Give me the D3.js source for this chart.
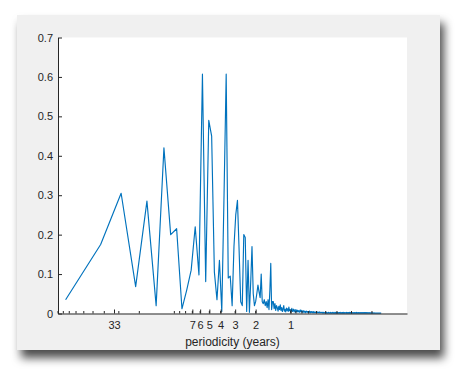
<!DOCTYPE html>
<html>
<head>
<meta charset="utf-8">
<script src="https://cdn.jsdelivr.net/npm/d3@7"></script>
<style>
  html, body { margin: 0; padding: 0; background: #ffffff; }
  svg { display: block; }
  text { font-family: "Liberation Sans", Arial, Helvetica, sans-serif; fill: #262626; }
</style>
</head>
<body>
<svg id="chart" width="474" height="384"></svg>
<script>
// Record length in years (harmonic k has period recordYears / k)
const recordYears = 86;

// Periodogram power for harmonics k = 1, 2, 3, ...
const power = [
  0.035,0.175,0.305,0.068,0.285,0.020,0.420,0.200,0.215,0.012,
  0.060,0.110,0.220,0.098,0.607,0.081,0.490,0.450,0.105,0.035,
  0.135,0.005,0.300,0.607,0.090,0.095,0.020,0.170,0.250,0.287,
  0.160,0.030,0.020,0.200,0.193,0.005,0.135,0.003,0.080,0.170,
  0.050,0.020,0.030,0.050,0.072,0.055,0.040,0.100,0.030,0.025,
  0.035,0.020,0.030,0.015,0.035,0.010,0.060,0.127,0.010,0.030,
  0.030,0.012,0.025,0.008,0.020,0.015,0.006,0.018,0.010,0.022,
  0.008,0.015,0.005,0.012,0.020,0.006,0.010,0.004,0.014,0.008,
  0.012,0.005,0.016,0.007,0.010,0.004,0.009,0.013,0.005,0.008,
  0.011,0.004,0.007,0.010,0.003,0.006,0.009,0.004,0.008,0.005,
  0.007,0.003,0.006,0.009,0.004,0.005,0.008,0.003,0.006,0.004,
  0.007,0.003,0.005,0.006,0.002,0.005,0.004,0.006,0.003,0.005,
  0.004,0.002,0.005,0.003,0.006,0.004,0.002,0.004,0.005,0.003,
  0.004,0.002,0.003,0.005,0.002,0.004,0.003,0.002,0.004,0.003,
  0.002,0.003,0.004,0.002,0.003,0.002,0.004,0.003,0.002,0.003,
  0.002,0.004,0.002,0.003,0.002,0.003,0.002,0.002,0.003,0.002,
  0.003,0.002,0.001,0.002,0.003,0.002,0.001,0.002,0.002,0.003,
  0.001,0.002,0.002,0.001,0.003,0.002,0.001,0.002,0.002,0.001,
  0.002,0.003,0.001,0.002,0.001,0.002,0.002,0.001,0.003,0.002,
  0.001,0.002,0.001,0.002,0.002,0.001,0.002,0.003,0.001,0.002,
  0.002,0.001,0.003,0.001,0.002,0.002,0.001,0.002,0.001,0.003,
  0.002,0.001,0.002,0.002,0.001,0.002,0.001,0.003,0.002,0.001,
  0.002,0.001,0.002,0.002,0.001,0.002,0.001,0.002,0.003,0.001,
  0.002,0.001,0.002,0.001,0.002,0.002,0.001,0.002,0.001,0.002,
  0.001,0.002,0.003,0.001,0.002,0.001,0.002,0.001,0.002,0.001,
  0.002,0.001,0.002,0.002,0.001,0.001,0.002,0.001,0.003,0.001,
  0.002,0.001,0.001,0.002,0.001,0.002,0.001,0.002,0.001,0.001,
  0.002,0.001,0.002,0.001,0.001,0.002,0.003,0.001,0.002,0.001,
  0.001,0.002,0.001,0.002,0.001,0.001,0.002,0.001,0.002,0.001,
  0.002,0.001,0.001,0.002,0.001,0.002,0.001,0.001,0.002,0.001,
  0.001,0.002,0.001,0.001,0.002,0.001,0.002,0.001,0.001,0.002,
  0.001,0.001,0.002,0.001,0.002,0.001,0.001,0.003,0.001,0.001,
  0.002,0.001,0.001,0.002,0.001,0.001,0.002,0.001,0.001,0.002,
  0.001,0.002,0.001,0.001,0.002,0.001,0.001,0.002,0.001,0.001,
  0.002,0.001,0.001,0.002,0.001,0.001,0.001,0.002,0.001,0.001,
  0.002,0.001,0.001,0.001,0.002,0.001,0.001,0.002,0.001,0.001,
  0.001,0.002,0.001,0.001,0.002,0.001,0.001,0.001,0.002,0.001,
  0.001,0.001,0.002,0.001,0.001,0.001,0.002,0.001,0.001,0.001,
  0.002,0.001,0.001,0.001,0.001,0.002,0.001,0.001,0.001,0.002,
  0.001,0.001,0.001,0.001,0.002,0.001,0.001,0.001,0.001,0.002,
  0.001,0.001,0.001,0.001,0.001,0.002,0.001,0.001,0.001,0.001,
  0.001,0.002,0.001,0.001,0.001,0.001,0.001,0.001,0.002,0.001,
  0.001,0.001,0.001,0.001,0.001,0.001,0.002,0.001,0.001,0.001,
  0.001,0.001,0.001,0.001,0.001,0.002,0.001,0.001,0.001,0.001,
  0.001,0.001,0.001,0.001,0.001,0.001,0.001,0.002,0.001,0.001,
  0.001,0.001,0.001,0.001,0.001,0.001,0.001,0.001,0.001,0.001,
  0.001,0.001,0.001,0.001,0.001,0.001,0.001,0.001,0.001,0.001,
  0.001,0.001,0.001,0.001,0.001,0.001,0.001,0.001,0.001,0.001,
  0.001,0.001,0.001,0.001,0.001,0.001,0.001,0.001,0.001,0.001,
  0.001,0.001,0.001,0.001,0.001,0.001,0.001,0.001,0.001,0.001,
  0.001,0.001,0.001,0.001,0.001,0.001,0.001,0.001,0.001,0.001,
  0.001,0.001,0.001,0.001,0.001,0.001
];

// Periodicity tick labels (years)
const periodTicks = [33, 7, 6, 5, 4, 3, 2, 1];
const periodLabels = ["33", "7", "6", "5", "4", "3", "2", "1"];
const yTicks = [0, 0.1, 0.2, 0.3, 0.4, 0.5, 0.6, 0.7];
const yTickLabels = ["0", "0.1", "0.2", "0.3", "0.4", "0.5", "0.6", "0.7"];
const xLabel = "periodicity (years)";

const svg = d3.select("#chart");

// Figure background with drop shadow
const defs = svg.append("defs");
const f = defs.append("filter").attr("id", "shadow")
  .attr("x", "-10%").attr("y", "-10%").attr("width", "125%").attr("height", "130%");
f.append("feDropShadow").attr("dx", 4).attr("dy", 8).attr("stdDeviation", 5)
  .attr("flood-color", "#000").attr("flood-opacity", 0.7);

svg.append("rect").attr("x", 17).attr("y", 15).attr("width", 423).attr("height", 335)
  .attr("fill", "#f0f0f0").attr("filter", "url(#shadow)");

const m = { left: 58, right: 407, top: 37.5, bottom: 313.5 };

svg.append("rect").attr("x", m.left).attr("y", m.top)
  .attr("width", m.right - m.left).attr("height", m.bottom - m.top).attr("fill", "#fff");

// Reversed log scale of period (years)
const x = d3.scaleLog().domain([100, 0.1]).range([m.left, m.right]);
const y = d3.scaleLinear().domain([0, 0.7]).range([m.bottom, m.top]);

const data = power.map((p, i) => ({ period: recordYears / (i + 1), p }));

// Line
svg.append("path").datum(data)
  .attr("fill", "none").attr("stroke", "#0072BD").attr("stroke-width", 1.15)
  .attr("stroke-linejoin", "round")
  .attr("d", d3.line().x(d => x(d.period)).y(d => y(d.p)));

const axisColor = "#262626";

// Y axis (ticks inward)
const yAxis = d3.axisLeft(y).tickValues(yTicks)
  .tickFormat((d, i) => yTickLabels[i]).tickSizeInner(-4).tickSizeOuter(0).tickPadding(5);
const gy = svg.append("g").attr("transform", `translate(${m.left},0)`).call(yAxis);
gy.selectAll("path, line").attr("stroke", axisColor);
gy.selectAll("text").style("font-size", "11px").attr("fill", axisColor)
  .style("font-family", "'Liberation Sans', Arial, sans-serif");

// X axis: major ticks at labelled periods, inward
const xAxis = d3.axisBottom(x).tickValues(periodTicks)
  .tickFormat((d, i) => periodLabels[i]).tickSizeInner(-4).tickSizeOuter(0).tickPadding(8);
const gx = svg.append("g").attr("transform", `translate(0,${m.bottom})`).call(xAxis);
gx.selectAll("path, line").attr("stroke", axisColor);
gx.selectAll("text").style("font-size", "11px").attr("fill", axisColor)
  .style("font-family", "'Liberation Sans', Arial, sans-serif");

// Minor log ticks (periods 0.2..0.9, 2..9, 20..90 and decades)
const minor = [];
[0.1, 1, 10].forEach(dec => { for (let j = 2; j <= 10; j++) minor.push(dec * j); });
svg.append("g").selectAll("line").data(minor).join("line")
  .attr("x1", d => x(d)).attr("x2", d => x(d))
  .attr("y1", m.bottom).attr("y2", m.bottom - 2.5)
  .attr("stroke", axisColor).attr("stroke-width", 1);

// X label
svg.append("text").attr("x", (m.left + m.right) / 2).attr("y", 346)
  .attr("text-anchor", "middle").style("font-size", "12px").attr("fill", axisColor)
  .text(xLabel);
</script>
</body>
</html>
